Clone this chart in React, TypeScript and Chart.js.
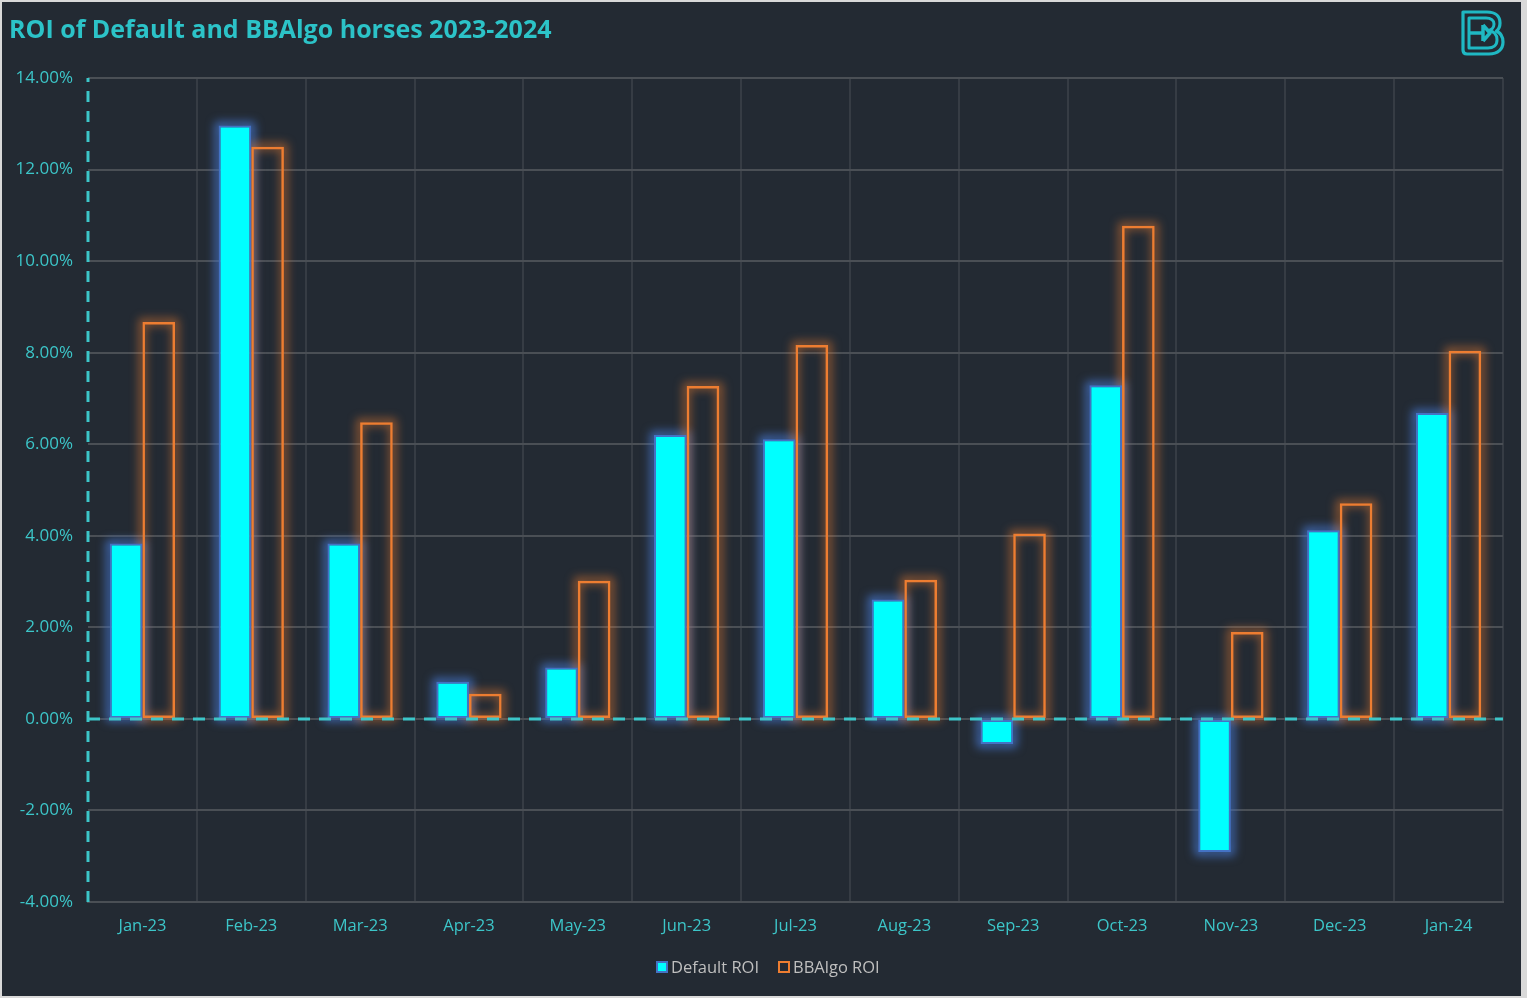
import React, { useEffect, useRef } from "react";
import { Chart, registerables } from "chart.js";

Chart.register(...registerables);

const categories = ["Jan-23", "Feb-23", "Mar-23", "Apr-23", "May-23", "Jun-23", "Jul-23", "Aug-23", "Sep-23", "Oct-23", "Nov-23", "Dec-23", "Jan-24"];
const defaultROI = [3.83, 12.96, 3.83, 0.81, 1.12, 6.2, 6.11, 2.61, -0.55, 7.29, -2.91, 4.12, 6.68];
const bbalgoROI = [8.67, 12.5, 6.48, 0.55, 3.02, 7.27, 8.17, 3.04, 4.05, 10.77, 1.9, 4.71, 8.04];
const seriesNames = ["Default ROI", "BBAlgo ROI"];
const yMin = -4;
const yMax = 14;
const yStep = 2;

const TEAL = "#3CC6C9";
const BG = "#232a33";
const FONT = "'Open Sans', 'Noto Sans', sans-serif";
const CYAN = "#00FFFF";
const BLUE = "#4472C4";
const ORANGE = "#ED7D31";

const glowPlugin = {
  id: "glow",
  beforeDatasetsDraw(chart: any) {
    const ctx = chart.ctx;
    const glowColors = ["rgba(68,114,196,0.9)", "rgba(237,125,49,0.55)"];
    chart.data.datasets.forEach((_: any, di: number) => {
      const meta = chart.getDatasetMeta(di);
      meta.data.forEach((el: any) => {
        const { x, y, base, width } = el.getProps(["x", "y", "base", "width"], true);
        const top = Math.min(y, base);
        const h = Math.abs(base - y);
        ctx.save();
        ctx.filter = "blur(5px)";
        ctx.strokeStyle = glowColors[di];
        ctx.lineWidth = 7;
        ctx.strokeRect(x - width / 2, top, width, h);
        ctx.restore();
      });
    });
  },
  afterDatasetsDraw(chart: any) {
    const ctx = chart.ctx;
    const y0 = chart.scales.y.getPixelForValue(0);
    const { left, right, top, bottom } = chart.chartArea;
    ctx.save();
    ctx.strokeStyle = TEAL;
    ctx.lineWidth = 3;
    ctx.setLineDash([12, 9]);
    ctx.beginPath();
    ctx.moveTo(left, y0);
    ctx.lineTo(right, y0);
    ctx.stroke();
    ctx.setLineDash([11, 9]);
    ctx.lineDashOffset = 7;
    ctx.beginPath();
    ctx.moveTo(left, top);
    ctx.lineTo(left, bottom);
    ctx.stroke();
    ctx.restore();
  },
};

function Logo() {
  return (
    <svg width="48" height="48" viewBox="0 0 48 48" style={{ position: "absolute", left: 1459, top: 9 }}>
      <path d="M4 3 H28 C37 3 41 8 41 14 C41 18 39.5 20.5 37.5 22 C41.5 24 44 27.5 44 33 C44 40 39 45 30 45 H8 C5.5 45 4 43.5 4 41 Z" fill="none" stroke="#1FB8C3" strokeWidth="3.2" strokeLinejoin="round" />
      <path d="M10 9 H27 C32 9 35 11.5 35 15 C35 18.5 32.5 21 29 21.5 C35 22 38 25.5 38 31 C38 36.5 34 39 29 39 H10 Z" fill="none" stroke="#1FB8C3" strokeWidth="3" strokeLinejoin="round" />
      <path d="M10 24 H24 M24 16 V32 M24 16 L31 24 L24 32" fill="none" stroke="#1FB8C3" strokeWidth="3.5" strokeLinejoin="round" />
    </svg>
  );
}

function Legend() {
  const textStyle: React.CSSProperties = {
    position: "absolute",
    top: 955,
    lineHeight: "24px",
    fontFamily: FONT,
    fontSize: 16.5,
    color: "#BFBFBF",
    whiteSpace: "nowrap",
  };
  return (
    <>
      <div style={{ position: "absolute", left: 656, top: 961, width: 8, height: 8, background: CYAN, border: `2px solid ${BLUE}` }} />
      <div style={{ ...textStyle, left: 671 }}>{seriesNames[0]}</div>
      <div style={{ position: "absolute", left: 778, top: 961, width: 8, height: 8, border: `2px solid ${ORANGE}`, boxSizing: "content-box" }} />
      <div style={{ ...textStyle, left: 793 }}>{seriesNames[1]}</div>
    </>
  );
}

export default function App() {
  const canvasRef = useRef<HTMLCanvasElement | null>(null);

  useEffect(() => {
    document.body.style.margin = "0";
    const canvas = canvasRef.current;
    if (!canvas) return;
    const chart = new Chart(canvas, {
      type: "bar",
      data: {
        labels: categories,
        datasets: [
          {
            label: seriesNames[0],
            data: defaultROI,
            backgroundColor: CYAN,
            borderColor: BLUE,
            borderWidth: 2,
            borderSkipped: false,
          },
          {
            label: seriesNames[1],
            data: bbalgoROI,
            backgroundColor: "rgba(0,0,0,0)",
            borderColor: ORANGE,
            borderWidth: 2.5,
            borderSkipped: false,
          },
        ],
      },
      options: {
        animation: false,
        responsive: false,
        maintainAspectRatio: false,
        layout: { padding: { left: 0, top: 76, right: 18, bottom: 0 } },
        datasets: { bar: { categoryPercentage: 0.6, barPercentage: 1.0 } },
        plugins: {
          title: { display: false },
          tooltip: { enabled: false },
          legend: { display: false },
        },
        scales: {
          x: {
            grid: {
              color: (c: any) => (c.index === 0 ? "rgba(0,0,0,0)" : "#363c44"),
              lineWidth: 2,
              drawTicks: false,
              offset: true,
            },
            border: { display: true, color: "#4a4f55", width: 2 },
            ticks: {
              color: TEAL,
              padding: 14,
              font: { family: FONT, size: 16.5 },
            },
            afterFit: (s: any) => {
              s.height = 94;
            },
          },
          y: {
            min: yMin,
            max: yMax,
            ticks: {
              stepSize: yStep,
              color: TEAL,
              padding: 15,
              font: { family: FONT, size: 17 },
              callback: (v: any) => Number(v).toFixed(2) + "%",
            },
            grid: { color: "#4a4f55", lineWidth: 2, drawTicks: false },
            border: { display: false },
            afterFit: (s: any) => {
              s.width = 86;
            },
          },
        },
      },
      plugins: [glowPlugin],
    });
    return () => chart.destroy();
  }, []);

  return (
    <div style={{ position: "relative", width: 1527, height: 998, background: "#d9d9d9", overflow: "hidden" }}>
      <div style={{ position: "absolute", left: 2, top: 2, width: 1519, height: 994, background: BG }} />
      <canvas ref={canvasRef} width={1519} height={994} style={{ position: "absolute", left: 2, top: 2, width: 1519, height: 994 }} />
      <div
        style={{
          position: "absolute",
          left: 9,
          top: 12,
          fontFamily: FONT,
          fontWeight: 700,
          fontSize: 25,
          lineHeight: "32px",
          color: "#2CC3C8",
          whiteSpace: "nowrap",
        }}
      >
        ROI of Default and BBAlgo horses 2023-2024
      </div>
      <Logo />
      <Legend />
    </div>
  );
}
